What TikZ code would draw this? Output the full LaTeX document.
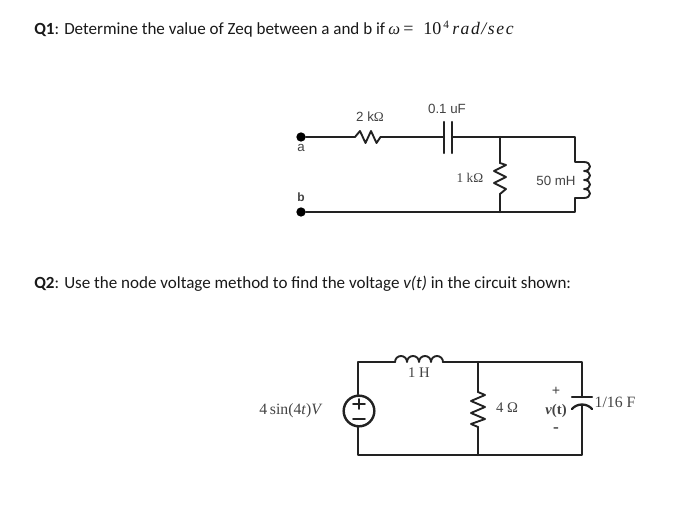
\documentclass[tikz,border=0pt]{standalone}
\usepackage{fontspec}
\setmainfont{Carlito}
\newfontfamily\lab{Liberation Sans}
\newfontfamily\tim{Liberation Serif}
\newfontfamily\timsp[LetterSpace=9]{Liberation Serif}
\usetikzlibrary{calc}
\definecolor{ink}{HTML}{222222}
\tikzset{
  wire/.style={draw=ink,line width=1.7pt,line join=round,line cap=round},
  wirethin/.style={draw=ink,line width=1.4pt,line join=round,line cap=round},
  term/.style={circle,fill=black,inner sep=0pt,minimum size=7pt},
  qtext/.style={anchor=base west,inner sep=0pt,font=\fontsize{12.77pt}{15pt}\selectfont,text=black!90},
  sanslab/.style={inner sep=0pt,font=\lab\fontsize{10pt}{12pt}\selectfont,text=ink!85},
  timlab/.style={inner sep=0pt,font=\tim\fontsize{11pt}{13pt}\selectfont,text=ink!85}
}
\begin{document}
\begin{tikzpicture}[x=0.75pt,y=-0.75pt]
\useasboundingbox[fill=white] (0,0) rectangle (700,505);
% Titles
\node[qtext] (q1) at (34,35) {\textbf{Q1}: Determine the value of Zeq between a and b if};
\node[qtext,font=\tim\itshape\fontsize{12.5pt}{14pt}\selectfont] (q1m) at (388,35) {ω};
\node[qtext,font=\tim\fontsize{13.5pt}{15pt}\selectfont] (q1e) at (403,35) {=};
\node[qtext,font=\tim\fontsize{13.5pt}{15pt}\selectfont] (q1t) at (423,35) {10};
\node[qtext,font=\tim\fontsize{8.5pt}{9pt}\selectfont] (q1s) at (443,29) {4};
\node[qtext,font=\timsp\itshape\fontsize{13.2pt}{16pt}\selectfont] (q1u) at (452,35) {rad/sec};
\node[qtext] (q2) at (34,289) {\textbf{Q2}: Use the node voltage method to find the voltage \textit{v(t)} in the circuit shown:};

% Circuit 1
\node[term] (a) at (301,137) {};
\node[term] (b) at (301,212) {};
\coordinate (r1l) at (350,137);
\coordinate (r1r) at (383,137);
\coordinate (c1l) at (444,137);
\coordinate (c1r) at (452,137);
\coordinate (j1) at (500,137);
\coordinate (j2) at (500,212);
\coordinate (tr) at (575,137);
\coordinate (br) at (575,212);
\coordinate (r2t) at (500,163);
\coordinate (r2b) at (500,194);
\coordinate (l1t) at (575,162);
\coordinate (l1b) at (575,198);
\draw[wire] (a) -- (r1l);
\draw[wirethin] (r1l) -- ++(5,0) -- ++(5,-6) -- ++(5.5,12) -- ++(5.5,-12) -- ++(5.5,12) -- ++(4,-6) -- (r1r);
\draw[wire] (r1r) -- (c1l);
\draw[wire] (c1l) ++(0,-15) -- ++(0,31);
\draw[wire] (c1r) ++(0,-15) -- ++(0,31);
\draw[wire] (c1r) -- (tr) -- (l1t) -- (584,162);
\draw[wire] (j1) -- (r2t);
\draw[wirethin] (r2t) -- ++(6,2) -- ++(-12,6) -- ++(12,6) -- ++(-12,6) -- ++(12,6) -- ++(-6,5);
\draw[wire] (r2b) -- (j2);
\draw[wire] (b) -- (br) -- (l1b) -- (584,198);
\draw[wirethin] (584,162) .. controls (592,162) and (592,171) .. (584,171)
  .. controls (592,171) and (592,180) .. (584,180)
  .. controls (592,180) and (592,189) .. (584,189)
  .. controls (592,189) and (592,198) .. (584,198);
\node[sanslab] (lr1) at (370,117) {2 k\tim Ω};
\node[sanslab] (lc1) at (447,109) {0.1 uF};
\node[sanslab] (la) at (301,148) {a};
\node[sanslab,font=\lab\bfseries\fontsize{9pt}{11pt}\selectfont] (lb) at (301,197) {b};
\node[sanslab] (lr2) at (470,178) {\tim 1 kΩ};
\node[sanslab] (ll1) at (556,181) {50 mH};

% Circuit 2
\node[circle,draw=ink,line width=1.8pt,minimum size=23pt,inner sep=0pt] (src) at (359,411) {};
\coordinate (tl) at (358,362);
\coordinate (bl) at (358,455);
\coordinate (l2l) at (395,362);
\coordinate (l2r) at (443,362);
\coordinate (m1) at (478,362);
\coordinate (m2) at (478,455);
\coordinate (rt) at (582,362);
\coordinate (rb) at (582,455);
\coordinate (r3t) at (478,392);
\coordinate (r3b) at (478,427);
\coordinate (cp1) at (582,397);
\coordinate (cp2) at (582,405);
\draw[wire] (src.north -| tl) -- (tl) -- (l2l);
\draw[wirethin] (l2l) arc (180:360:6) arc (180:360:6) arc (180:360:6) arc (180:360:6);
\draw[wire] (l2r) -- (rt) -- (cp1);
\draw[wire] (src.south -| bl) -- (bl) -- (rb) -- (cp2);
\draw[wire] (m1) -- (r3t);
\draw[wirethin] (r3t) -- ++(7,3) -- ++(-14,6) -- ++(14,6) -- ++(-14,6) -- ++(14,6) -- ++(-14,5) -- ++(7,3);
\draw[wire] (r3b) -- (m2);
\draw[wire] (572,397) -- (592,397);
\draw[wire] (572,409) .. controls (577,403) and (587,403) .. (592,409);
\draw[wirethin] (src) ++(-6,-7) -- ++(12,0);
\draw[wirethin] (src) ++(0,-12) -- ++(0,10);
\draw[wirethin] (src) ++(-6,8) -- ++(12,0);
\node[timlab,font=\tim\fontsize{11.8pt}{13pt}\selectfont] (ls) at (291,411) {4\,sin(4\textit{t})\textit{V}};
\node[timlab] (ll2) at (419,373) {1 H};
\node[timlab] (lr3) at (507,408) {4 Ω};
\node[timlab,font=\tim\fontsize{11.8pt}{13pt}\selectfont] (lc2) at (615,402) {1/16 F};
\node[timlab] (lp) at (556,391) {\textbf{+}};
\node[timlab,font=\tim\bfseries\fontsize{11pt}{13pt}\selectfont] (lv) at (556,411) {\textit{v}(t)};
\node[timlab,font=\tim\bfseries\fontsize{13pt}{13pt}\selectfont] (lm) at (556,430) {-};
\end{tikzpicture}
\end{document}
